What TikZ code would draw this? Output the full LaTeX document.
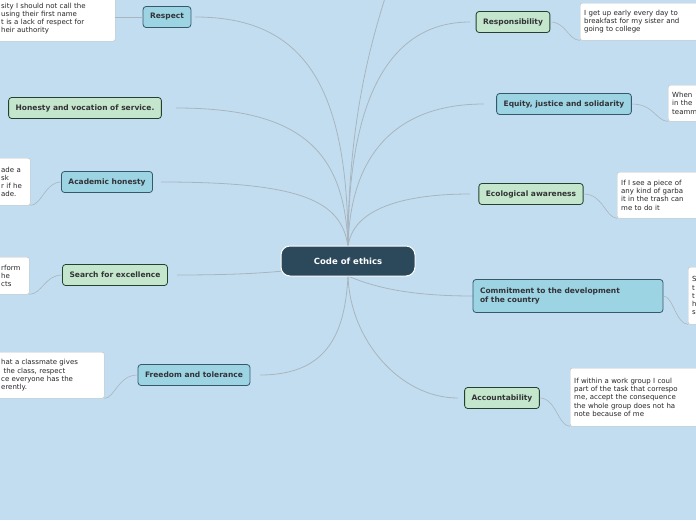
\documentclass[tikz,border=0pt]{standalone}
\usepackage{fontspec}
\setmainfont{DejaVu Sans}
\begin{document}
\begin{tikzpicture}[x=1pt,y=-1pt,
  lab/.style={line width=0.8pt, rounded corners=3pt, font=\bfseries\fontsize{7.5}{9.5}\selectfont, text=black!75!cyan!40!black, inner xsep=7pt, minimum height=21pt},
  blu/.style={lab, fill=bluef, draw=blued},
  grn/.style={lab, fill=greenf, draw=greend},
  note/.style={draw=gray!50, fill=white, rounded corners=2pt, font=\fontsize{7}{8.2}\selectfont, align=left, anchor=north west, inner xsep=4pt, inner ysep=3pt, text=black!85},
  con/.style={draw=lineg, line width=0.8pt},
  lnk/.style={draw=lineg, line width=0.6pt}]
\definecolor{bg}{HTML}{C2DDF0}
\definecolor{bluef}{HTML}{9CD4E4}
\definecolor{blued}{HTML}{35596B}
\definecolor{greenf}{HTML}{C4E6CC}
\definecolor{greend}{HTML}{26402E}
\definecolor{lineg}{HTML}{A9B5BE}
\definecolor{centerf}{HTML}{2C495B}
\fill[bg] (0,0) rectangle (696,520);
\useasboundingbox (0,0) rectangle (696,520);
\clip (0,0) rectangle (696,520);
\coordinate (ct) at (348,247);
\coordinate (cb) at (348,276);
\coordinate (top) at (385,-2);
\draw[con] (ct) .. controls (348,120) and (372,40) .. (top);
\draw[con] (ct) .. controls (348,80) and (300,17) .. (195,17);
\draw[con] (ct) .. controls (345,150) and (300,108) .. (176,108);
\draw[con] (ct) .. controls (342,200) and (300,182) .. (161,182);
\draw[con] (ct) .. controls (345,265) and (300,275) .. (177,275);
\draw[con] (cb) .. controls (345,330) and (330,375) .. (260,375);
\draw[con] (ct) .. controls (348,80) and (400,22) .. (470,22);
\draw[con] (ct) .. controls (350,150) and (400,104) .. (484,104);
\draw[con] (ct) .. controls (352,210) and (400,194) .. (470,194);
\draw[con] (cb) .. controls (380,290) and (420,296) .. (473,296);
\draw[con] (cb) .. controls (350,340) and (400,398) .. (458,398);

\node[fill=centerf, draw=white, line width=1pt, rounded corners=9pt, minimum width=134pt, minimum height=30pt, text=white, font=\bfseries\fontsize{8.5}{10}\selectfont] (c) at (348,261) {Code of ethics};

\node[blu] (respect) at (167,17) {Respect};
\node[grn] (hon) at (85,108) {Honesty and vocation of service.};
\node[blu] (acad) at (107,182) {Academic honesty};
\node[grn] (srch) at (115,275) {Search for excellence};
\node[blu] (free) at (194,375) {Freedom and tolerance};
\node[grn] (resp) at (513,22) {Responsibility};
\node[blu] (eq) at (564,104) {Equity, justice and solidarity};
\node[grn] (eco) at (531,194) {Ecological awareness};
\node[blu, align=left, text width=176pt, minimum height=33pt] (com) at (568,296) {Commitment to the development\\of the country};
\node[grn] (acc) at (502,398) {Accountability};

\node[note, text width=122pt, minimum height=45pt] (n1) at (-15,-4) {\hspace*{12pt}sity I should not call the\\\hspace*{12pt}using their first name\\\hspace*{12pt}t is a lack of respect for\\\hspace*{12pt}heir authority};
\node[note, text width=37pt, minimum height=47pt] (n2) at (-15,158) {\hspace*{12pt}ade a\\\hspace*{12pt}sk\\\hspace*{12pt}r if he\\\hspace*{12pt}ade.};
\node[note, text width=36pt, minimum height=37pt] (n3) at (-15,257) {\hspace*{12pt}rform\\\hspace*{12pt}he\\\hspace*{12pt}cts};
\node[note, text width=111pt, minimum height=46pt] (n4) at (-15,352) {\hspace*{12pt}hat a classmate gives\\\hspace*{12pt} the class, respect\\\hspace*{12pt}ce everyone has the\\\hspace*{12pt}erently.};
\node[note, text width=140pt, minimum height=37pt] (n5) at (580,3) {I get up early every day to\\breakfast for my sister and\\going to college};
\node[note, text width=60pt, minimum height=36pt] (n6) at (668,85) {When\\in the\\teamm};
\node[note, text width=110pt, minimum height=46pt] (n7) at (617,172) {If I see a piece of\\any kind of garba\\it in the trash can\\me to do it};
\node[note, text width=40pt, minimum height=57pt] (n8) at (688,267) {S\\t\\t\\h\\s};
\node[note, text width=150pt, minimum height=58pt] (n9) at (570,368) {If within a work group I coul\\part of the task that correspo\\me, accept the consequence\\the whole group does not ha\\note because of me};

\draw[lnk] (respect.west) -- (n1.east |- respect.west);
\draw[lnk] (acad.west) .. controls (45,182) and (42,205) .. (n2.south east);
\draw[lnk] (srch.west) .. controls (45,275) and (42,294) .. (n3.south east);
\draw[lnk] (free.west) .. controls (118,375) and (115,398) .. (n4.south east);
\draw[lnk] (resp.east) .. controls (566,22) and (568,40) .. (n5.south west);
\draw[lnk] (eq.east) .. controls (654,104) and (656,121) .. (n6.south west);
\draw[lnk] (eco.east) .. controls (603,194) and (605,217) .. (n7.south west);
\draw[lnk] (com.east) .. controls (673,296) and (676,324) .. (n8.south west);
\draw[lnk] (acc.east) .. controls (556,398) and (558,426) .. (n9.south west);
\end{tikzpicture}
\end{document}
